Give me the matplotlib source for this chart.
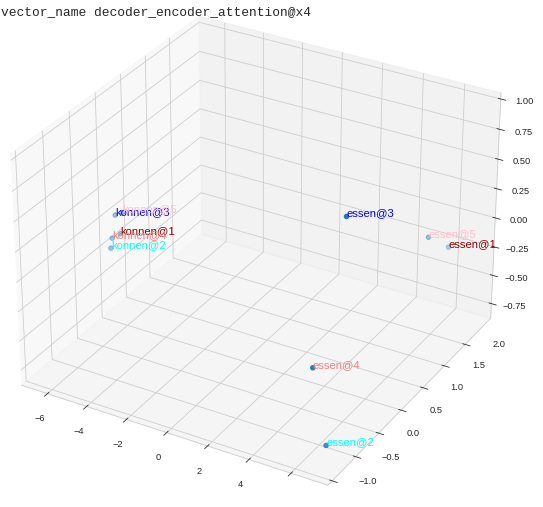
import numpy as np
import matplotlib
matplotlib.use("Agg")
import matplotlib.pyplot as plt
import seaborn as sns

sns.set_style("whitegrid")
plt.rcParams['font.family'] = ['Liberation Sans', 'DejaVu Sans']

# points (depth guessed from the shading)
labels = ["konnen@1", "konnen@2", "konnen@3", "konnen@4", "konnen@5",
          "essen@1", "essen@2", "essen@3", "essen@4", "essen@5"]
xs = [-5.91, -6.16, -6.15, -6.30, -6.00, 5.83, 7.05, 6.74, 6.72, 5.79]
ys = [0.377, 0.272, 0.37, 0.355, 0.457, 2.466, -0.83, -0.33, -0.978, 1.986]
zs = [-0.03, -0.13, 0.12, -0.08, 0.12, -0.29, -0.69, 0.97, -0.007, -0.04]
label_colors = {"1": "darkred", "2": "cyan", "3": "blue", "4": "lightcoral", "5": "pink"}

xlim = (-7.34, 7.73)
ylim = (-1.09, 2.63)
zlim = (-0.88, 1.05)
xticks = [-6, -4, -2, 0, 2, 4, 6]
xticklabels = ["-6", "-4", "-2", "0", "2", "4", ""]
yticks = [-1.0, -0.5, 0.0, 0.5, 1.0, 1.5, 2.0]
yticklabels = ["-1.0", "-0.5", "0.0", "0.5", "1.0", "1.5", "2.0"]
zticks = [-0.75, -0.5, -0.25, 0.0, 0.25, 0.5, 0.75, 1.0]
zticklabels = ["-0.75", "-0.50", "-0.25", "0.00", "0.25", "0.50", "0.75", "1.00"]


def minus(s):
    return s.replace("-", "\u2212")


fig = plt.figure(figsize=(543 / 72, 507 / 72), dpi=72)
ax = fig.add_axes([-0.072, -0.025, 1.076, 1.076], projection='3d')

ax.scatter(xs, ys, zs, color="C0")
for x, y, z, lab in zip(xs, ys, zs, labels):
    ax.text(x, y, z, lab, color=label_colors[lab[-1]], fontsize=11.3)

ax.set_xlim(*xlim)
ax.set_ylim(*ylim)
ax.set_zlim(*zlim)
ax.set_xticks(xticks)
ax.set_yticks(yticks)
ax.set_zticks(zticks)
ax.set_xticklabels([])
ax.set_yticklabels([])
ax.set_zticklabels([])

# tick labels sit a bit further out than matplotlib puts them now
tk = dict(color=".15", fontsize=9.3, ha="center", va="center")
for t, s in zip(xticks, xticklabels):
    ax.text(t, ylim[0] - 0.17, zlim[0] - 0.148, minus(s), **tk)
for t, s in zip(yticks, yticklabels):
    ax.text(xlim[1] + 1.63, t, zlim[0] + 0.09, minus(s), **tk)
for t, s in zip(zticks, zticklabels):
    ax.text(xlim[1] + 1.0, ylim[1] + 0.07, t, minus(s), **tk)

fig.text(0.002, 0.976, "vector_name decoder_encoder_attention@x4",
         family="Liberation Mono", fontsize=12.9, va="center", ha="left")

plt.savefig("out.png", dpi=72)
